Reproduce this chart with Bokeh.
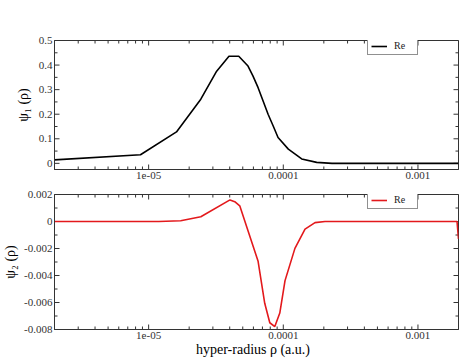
import math
from bokeh.plotting import figure
from bokeh.layouts import column
from bokeh.models import FixedTicker, CustomJSTickFormatter, Range1d
from bokeh.embed import file_html
from bokeh.resources import INLINE

# ---- data ----
rho1 = [2.0e-6, 8.7e-6, 1.61e-5, 2.44e-5, 3.2e-5, 3.95e-5, 4.67e-5, 5.47e-5, 5.96e-5,
        6.5e-5, 7.08e-5, 7.71e-5, 8.4e-5, 9.14e-5, 1.09e-4, 1.37e-4, 1.77e-4, 2.3e-4, 2.0e-3]
psi1 = [0.014, 0.035, 0.128, 0.261, 0.375, 0.436, 0.436, 0.396, 0.355,
        0.308, 0.254, 0.200, 0.153, 0.105, 0.058, 0.018, 0.004, 0.0, 0.0]

rho2 = [2.0e-6, 1.19e-5, 1.73e-5, 2.44e-5, 4.02e-5, 4.36e-5, 4.75e-5, 5.47e-5, 6.5e-5,
        7.28e-5, 7.94e-5, 8.65e-5, 9.42e-5, 1.03e-4, 1.22e-4, 1.45e-4, 1.72e-4, 2.04e-4,
        2.28e-4, 1.95e-3, 2.0e-3]
psi2 = [0.0, 0.0, 0.00006, 0.00035, 0.0016, 0.00147, 0.00116, -0.00068, -0.00295,
        -0.00606, -0.0075, -0.00778, -0.00678, -0.00438, -0.00199, -0.00056, -0.00008, 0.0,
        0.0, 0.0, -0.0013]

x_range_vals = (2e-6, 2e-3)
x_major = [1e-5, 1e-4, 1e-3]
x_minor = [m * 10.0 ** e for e in (-6, -5, -4) for m in range(2, 10)] + [2e-3]
y1_range_vals = (-0.025, 0.5)
y1_major = [0.0, 0.1, 0.2, 0.3, 0.4, 0.5]
y1_minor = [0.05, 0.15, 0.25, 0.35, 0.45]
y2_range_vals = (-0.008, 0.002)
y2_major = [-0.008, -0.006, -0.004, -0.002, 0.0, 0.002]
y2_minor = [-0.007, -0.005, -0.003, -0.001, 0.001]
series_label = "Re"
ylabel1 = "ψ₁ (ρ)"
ylabel2 = "ψ₂ (ρ)"
xlabel = "hyper-radius  ρ  (a.u.)"

FONT = "Liberation Serif"
AX = "#333333"

xfmt = CustomJSTickFormatter(code="""
const e = Math.round(Math.log10(tick));
const m = {"-5": "1e-05", "-4": "0.0001", "-3": "0.001"};
return (m[String(e)] !== undefined) ? m[String(e)] : String(tick);
""")
yfmt = CustomJSTickFormatter(code="""
if (Math.abs(tick) < 1e-12) return "0";
return String(parseFloat(tick.toFixed(4)));
""")


def style_axis(ax):
    ax.axis_line_color = AX
    ax.major_tick_in = 0
    ax.major_tick_out = 0
    ax.minor_tick_in = 0
    ax.minor_tick_out = 0
    ax.major_label_text_font = FONT
    ax.major_label_text_color = AX
    ax.major_label_text_font_size = "11px"
    ax.major_label_standoff = 2
    ax.axis_label_text_font = FONT
    ax.axis_label_text_font_style = "normal"
    ax.axis_label_text_color = "black"
    ax.axis_label_text_font_size = "14px"


def make_fig(fh, top, bottom, yr, ymaj, ymin, xs, ys, color, ylab, ylab_standoff):
    p = figure(frame_width=404, frame_height=fh, x_axis_type="log",
               x_range=Range1d(*x_range_vals), y_range=Range1d(*yr),
               output_backend="svg", toolbar_location=None,
               min_border_left=53, min_border_right=9,
               min_border_top=top, min_border_bottom=bottom)
    p.xgrid.visible = False
    p.ygrid.visible = False
    p.outline_line_color = AX
    p.background_fill_color = "white"
    p.border_fill_color = "white"

    p.xaxis.ticker = FixedTicker(ticks=x_major, minor_ticks=x_minor)
    p.xaxis.formatter = xfmt
    p.yaxis.ticker = FixedTicker(ticks=ymaj, minor_ticks=ymin)
    p.yaxis.formatter = yfmt
    style_axis(p.xaxis[0])
    style_axis(p.yaxis[0])
    p.yaxis[0].axis_label = ylab
    p.yaxis[0].axis_label_standoff = ylab_standoff

    # inward ticks on all four frame edges (half of each dash is clipped away)
    x0, x1 = p.x_range.start, p.x_range.end
    y0, y1 = p.y_range.start, p.y_range.end
    for pos, size in ((x_major, 10), (x_minor, 6)):
        for yy in (y0, y1):
            p.scatter(x=pos, y=[yy] * len(pos), marker="dash", angle=math.pi / 2,
                      size=size, line_color=AX, line_width=1)
    for pos, size in ((ymaj, 10), (ymin, 6)):
        for xx in (x0, x1):
            p.scatter(x=[xx] * len(pos), y=pos, marker="dash",
                      size=size, line_color=AX, line_width=1)

    p.line(xs, ys, line_color=color, line_width=1.6, legend_label=series_label)

    lg = p.legend[0]
    lg.location = (313, fh - 15)
    lg.border_line_color = "#222222"
    lg.border_line_width = 1
    lg.background_fill_alpha = 1
    lg.padding = 3
    lg.margin = 0
    lg.spacing = 0
    lg.glyph_width = 16
    lg.glyph_height = 8
    lg.label_standoff = 7
    lg.label_height = 8
    lg.label_text_font = FONT
    lg.label_text_font_size = "10px"
    lg.label_text_color = "#222222"
    return p


p1 = make_fig(129, 40, 16, y1_range_vals, y1_major, y1_minor, rho1, psi1, "black",
              ylabel1, 5)
p2 = make_fig(135, 9, 31, y2_range_vals, y2_major, y2_minor, rho2, psi2, "#e3191c",
              ylabel2, 3)

p2.xaxis[0].axis_label = xlabel
p2.xaxis[0].axis_label_standoff = 0

layout = column(p1, p2)
open("out.html", "w").write(file_html(layout, INLINE))
